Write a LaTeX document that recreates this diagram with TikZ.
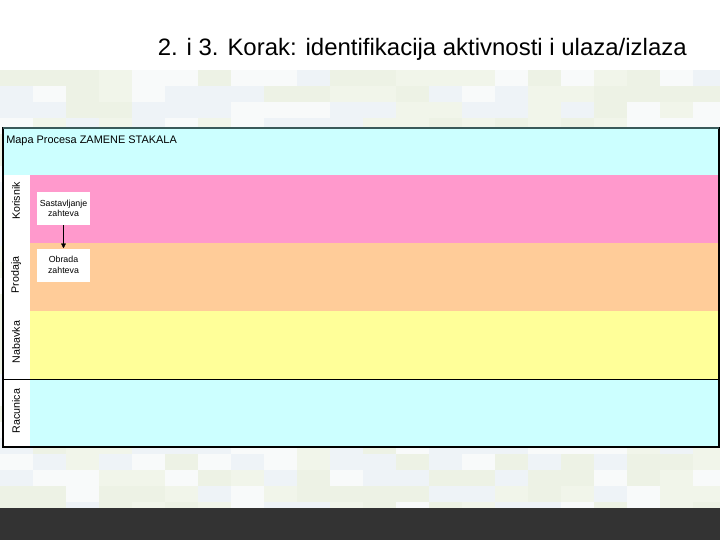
\documentclass[tikz,border=0pt]{standalone}
\usepackage{fontspec}
\setmainfont{Liberation Sans}
\usetikzlibrary{arrows.meta}
\definecolor{hdrc}{HTML}{CCFFFF}
\definecolor{pinkc}{HTML}{FF99CC}
\definecolor{peachc}{HTML}{FFCC99}
\definecolor{yellc}{HTML}{FFFF99}
\definecolor{cyanc}{HTML}{CCFFFF}
\definecolor{darkbar}{HTML}{333333}
\definecolor{bgbase}{HTML}{F2F5F2}
\definecolor{bgc1}{HTML}{F1F5EA}
\definecolor{bgc2}{HTML}{EEF3F7}
\definecolor{bgc3}{HTML}{F8FAFA}
\definecolor{bgc4}{HTML}{EDF2E5}
\definecolor{framec}{HTML}{3A5A5A}
\tikzset{
  actbox/.style={draw=none, fill=white, minimum width=39.75pt, minimum height=24.75pt,
    align=center, font=\fontsize{6.6pt}{8pt}\selectfont, inner sep=1pt},
  lanelbl/.style={rotate=90, font=\fontsize{8pt}{9pt}\selectfont, inner sep=0pt},
  flow/.style={draw=black, line width=0.25pt, -{Triangle[length=3.5pt,width=3.5pt]}}
}
\begin{document}
\begin{tikzpicture}[x=0.75pt,y=-0.75pt]
\useasboundingbox (0,0) rectangle (720,540);
% background
\fill[white] (0,0) rectangle (720,70);
\fill[bgbase] (0,70) rectangle (720,508);
\pgfmathsetseed{11}
\foreach \r in {0,...,27}{
  \foreach \c in {0,...,21}{
    \pgfmathrandominteger{\k}{1}{4}
    \pgfmathsetmacro{\yy}{min(70+16*\r+16,508)}
    \fill[bgc\k] (\c*33,70+16*\r) rectangle (\c*33+33,\yy);
  }
}
\fill[darkbar] (0,508) rectangle (720,540);
% title
\node[anchor=base east, font=\fontsize{17.8pt}{20pt}\selectfont, inner sep=0pt, xscale=1.01] (title) at (687,55) {2. i 3. Korak: identifikacija aktivnosti i ulaza/izlaza};
% diagram
\fill[white] (3,128) rectangle (719,447);
\fill[hdrc] (3,128) rectangle (719,175);
\fill[pinkc] (30,175) rectangle (719,243);
\fill[peachc] (30,243) rectangle (719,311);
\fill[yellc] (30,311) rectangle (719,379);
\fill[cyanc] (30,379) rectangle (719,447);
\draw[black, line width=0.6pt] (3,379) -- (719,379);
\draw[black, line width=0.8pt] (3,128) rectangle (719,447);
\draw[framec, line width=0.8pt] (3,128) -- (719,128);
\node[anchor=base west, font=\fontsize{8.2pt}{9pt}\selectfont, inner sep=0pt] (maptitle) at (6,143) {Mapa Procesa ZAMENE STAKALA};
% lane labels
\node[lanelbl] (l1) at (16,201) {Korisnik};
\node[lanelbl] (l2) at (16,275) {Prodaja};
\node[lanelbl] (l3) at (16,342) {Nabavka};
\node[lanelbl] (l4) at (16,411) {Racunica};
% activities
\node[actbox] (a1) at (63.5,208.5) {Sastavljanje\\zahteva};
\node[actbox] (a2) at (63.5,265) {Obrada\\zahteva};
\draw[flow] (a1.south) -- (a2.north);
\end{tikzpicture}
\end{document}
